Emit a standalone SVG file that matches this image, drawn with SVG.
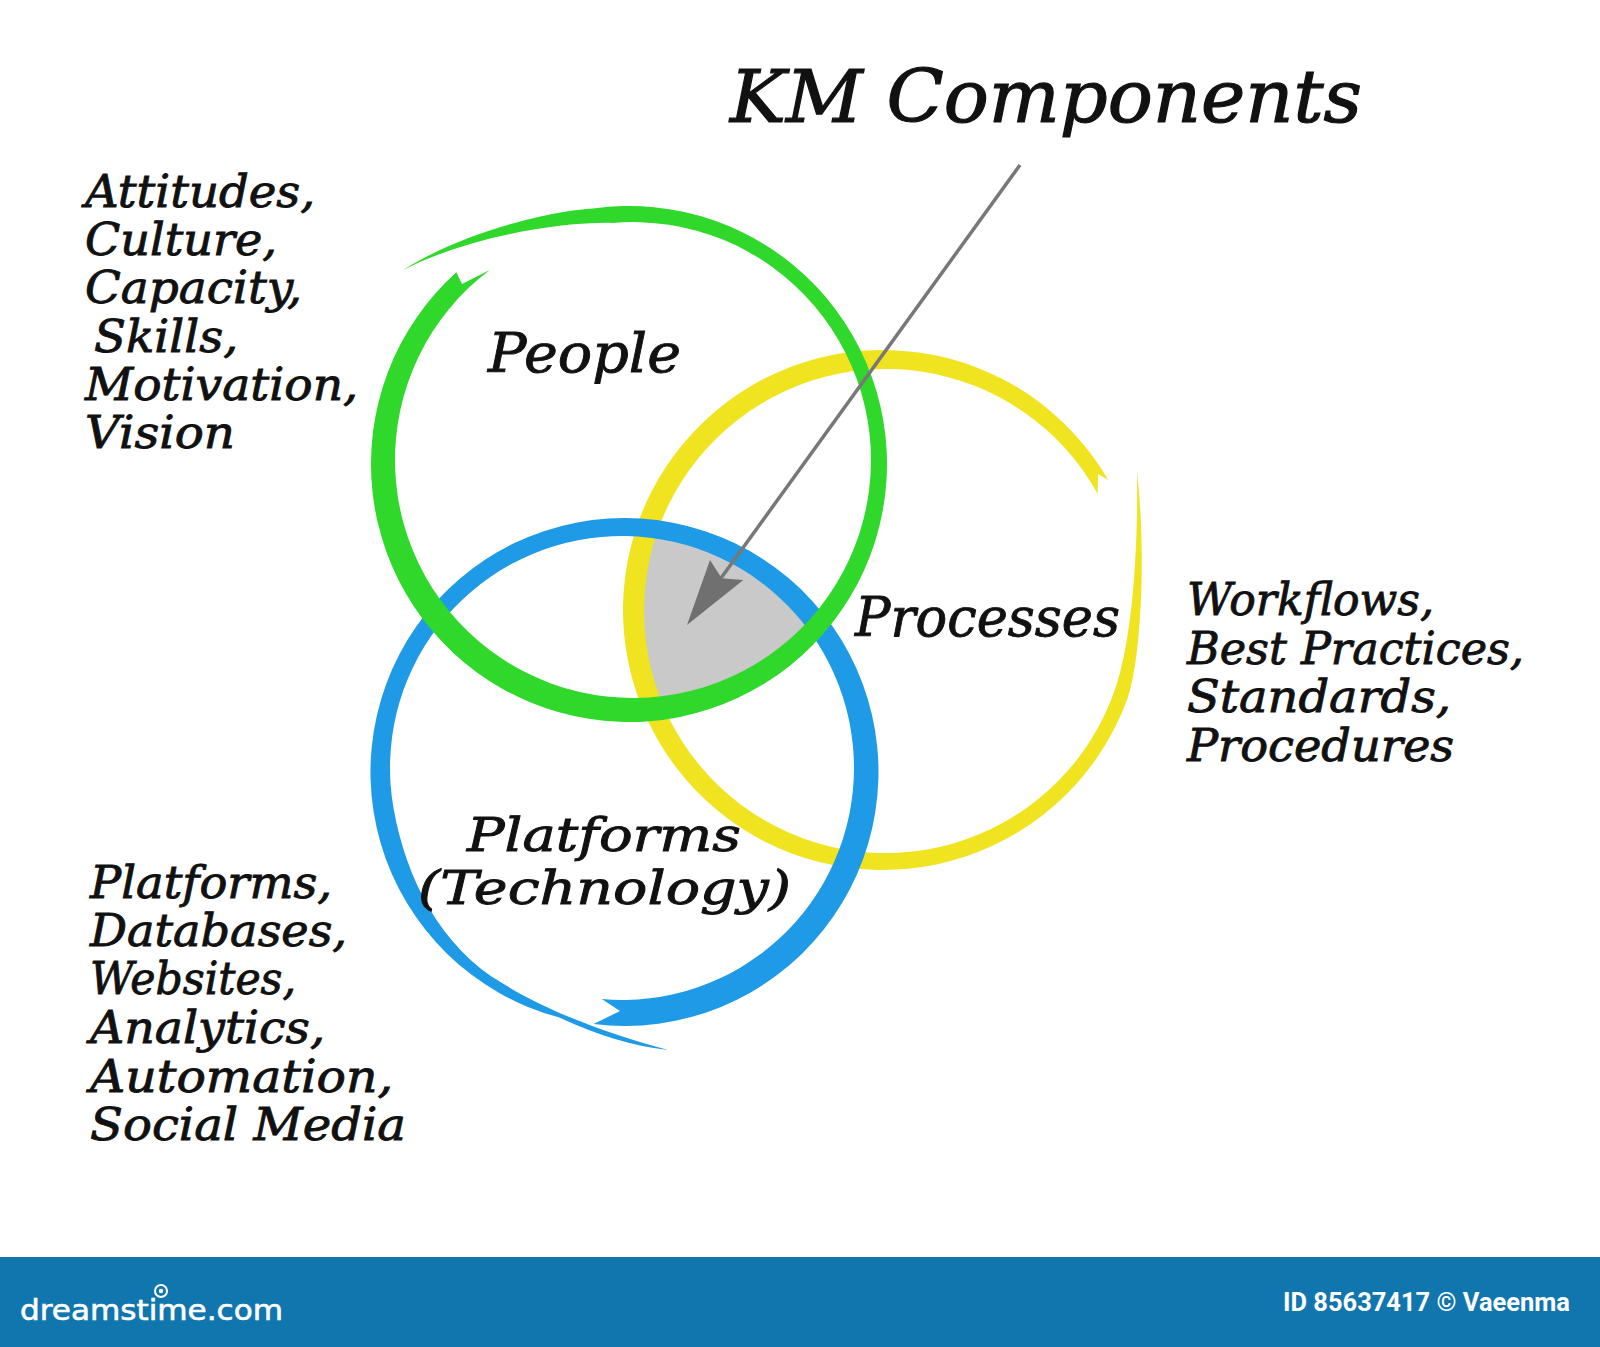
<svg xmlns="http://www.w3.org/2000/svg" width="1600" height="1347" viewBox="0 0 1600 1347">
<defs>
<style>
.hw{font-family:"DejaVu Serif","Liberation Serif",serif;font-style:italic;fill:#111111;stroke:#111111;stroke-width:0.9px;}
.lst{font-size:44px;}
.lbl{font-size:54px;}
.lbl2{font-size:46px;}
.ttl{font-size:72px;stroke-width:1.2px;}
.green{fill:#2fd82a;}
.yellow{fill:#f0e31f;}
.blue{fill:#1f9ae6;}
.bar{fill:#1276ae;}
.wm{fill:#ffffff;}
</style>
<clipPath id="clipGreen"><circle cx="633" cy="460" r="248"/></clipPath>
<clipPath id="clipBlueGreen" clip-path="url(#clipGreen)"><circle cx="622" cy="768" r="243"/></clipPath>
</defs>
<rect x="0" y="0" width="1600" height="1347" fill="#ffffff"/>

<g id="overlap">
<circle cx="886" cy="611" r="250" fill="#c9c9c9" clip-path="url(#clipBlueGreen)"/>
</g>

<g id="processes">
<path class="yellow" d="M 1108.17 480 A 260 260 0 1 0 1127.32 698.93 C 1140 665 1147 560 1137 471 C 1138 540 1134 620 1119.75 673.63 A 242 242 0 1 1 1097.66 493.68 L 1098 474 Z"/>
<text class="hw lbl" x="855" y="636" textLength="265" lengthAdjust="spacingAndGlyphs">Processes</text>
</g>

<g id="platforms">
<path class="blue" d="M 668 1050 Q 618 1045 558.76 1017.35 A 254 254 0 1 1 593.55 1024.11 L 620 1011 L 601.78 999.12 A 232 232 0 1 0 393.52 808.29 C 405.8 878.1 441.1 947.9 502.5 983.3 C 545 1010 605 1033 668 1050 Z"/>
<text class="hw lbl2" x="467" y="851" textLength="274" lengthAdjust="spacingAndGlyphs">Platforms</text>
<text class="hw lbl2" x="418" y="904" textLength="373" lengthAdjust="spacingAndGlyphs">(Technology)</text>
</g>

<g id="people">
<path class="green" d="M 456.36 272.27 A 258 258 0 1 0 593.09 208.51 C 560 210 470 228 403 270 C 470 236 560 222 612.26 222.91 A 238 238 0 1 1 489.77 269.92 L 462 284 Z"/>
<text class="hw lbl" x="488" y="372" textLength="193" lengthAdjust="spacingAndGlyphs">People</text>
</g>

<g id="connectors">
<line x1="1020" y1="165" x2="716" y2="585" stroke="#777777" stroke-width="3.5"/>
<polygon points="687,625 710,560 721.7,578.3 743.3,580" fill="#707070"/>
</g>

<g id="title">
<text class="hw ttl" x="730" y="122" textLength="632" lengthAdjust="spacingAndGlyphs">KM Components</text>
</g>

<g id="people-list">
<text class="hw lst" x="85" y="207" textLength="230" lengthAdjust="spacingAndGlyphs">Attitudes,</text>
<text class="hw lst" x="85" y="255" textLength="192" lengthAdjust="spacingAndGlyphs">Culture,</text>
<text class="hw lst" x="85" y="303" textLength="217" lengthAdjust="spacingAndGlyphs">Capacity,</text>
<text class="hw lst" x="94" y="352" textLength="144" lengthAdjust="spacingAndGlyphs">Skills,</text>
<text class="hw lst" x="85" y="400" textLength="273" lengthAdjust="spacingAndGlyphs">Motivation,</text>
<text class="hw lst" x="85" y="448" textLength="150" lengthAdjust="spacingAndGlyphs">Vision</text>
</g>

<g id="processes-list">
<text class="hw lst" x="1187" y="615" textLength="247" lengthAdjust="spacingAndGlyphs">Workflows,</text>
<text class="hw lst" x="1187" y="664" textLength="337" lengthAdjust="spacingAndGlyphs">Best Practices,</text>
<text class="hw lst" x="1187" y="712" textLength="264" lengthAdjust="spacingAndGlyphs">Standards,</text>
<text class="hw lst" x="1187" y="761" textLength="267" lengthAdjust="spacingAndGlyphs">Procedures</text>
</g>

<g id="platforms-list">
<text class="hw lst" x="90" y="898" textLength="242" lengthAdjust="spacingAndGlyphs">Platforms,</text>
<text class="hw lst" x="90" y="946" textLength="257" lengthAdjust="spacingAndGlyphs">Databases,</text>
<text class="hw lst" x="90" y="994" textLength="206" lengthAdjust="spacingAndGlyphs">Websites,</text>
<text class="hw lst" x="90" y="1043" textLength="235" lengthAdjust="spacingAndGlyphs">Analytics,</text>
<text class="hw lst" x="90" y="1092" textLength="303" lengthAdjust="spacingAndGlyphs">Automation,</text>
<text class="hw lst" x="90" y="1140" textLength="316" lengthAdjust="spacingAndGlyphs">Social Media</text>
</g>

<g id="footer">
<rect class="bar" x="0" y="1257" width="1600" height="90"/>
<circle cx="161" cy="1291" r="6" fill="none" stroke="#ffffff" stroke-width="2"/>
<circle cx="161" cy="1291" r="2.2" class="wm"/>
<text class="wm" x="20" y="1320" font-family="'DejaVu Sans','Liberation Sans',sans-serif" font-size="29" stroke="#ffffff" stroke-width="0.6" textLength="263" lengthAdjust="spacingAndGlyphs">dreamstime.com</text>
<text class="wm" x="1283" y="1311" font-family="Roboto,'Liberation Sans',sans-serif" font-weight="bold" font-size="25" textLength="287" lengthAdjust="spacingAndGlyphs">ID 85637417 © Vaeenma</text>
</g>
</svg>
